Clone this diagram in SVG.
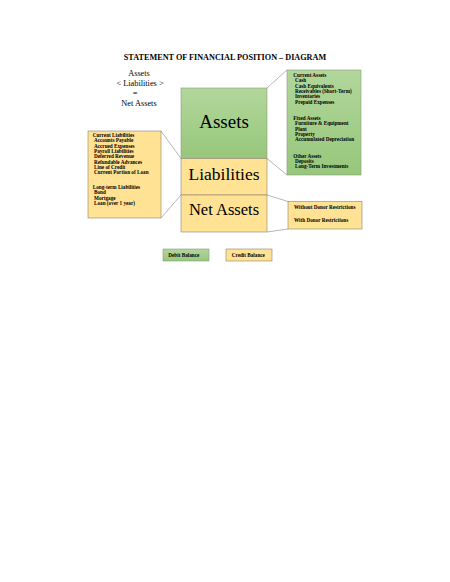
<svg xmlns="http://www.w3.org/2000/svg" width="450" height="582" viewBox="0 0 450 582">
<defs>
<linearGradient id="g" x1="0" y1="0" x2="0" y2="1">
<stop offset="0" stop-color="#b2d69b"/>
<stop offset="1" stop-color="#97c77b"/>
</linearGradient>
</defs>
<style>
text{font-family:"Liberation Serif","Times New Roman","DejaVu Serif",serif;fill:#000}
.green{fill:url(#g);stroke:#8a9a80;stroke-width:0.6}
.yel{fill:#ffe293;stroke:#8c8470;stroke-width:0.6}
.big{text-anchor:middle}
.sm{font-weight:bold;font-size:5.2px}
.mid{font-size:8.3px;text-anchor:middle}
.ln{stroke:#6f6f6f;stroke-width:0.5;fill:none}
</style>
<rect width="450" height="582" fill="#fff"/>
<text x="225" y="60" font-weight="bold" font-size="8.2" text-anchor="middle">STATEMENT OF FINANCIAL POSITION – DIAGRAM</text>
<g id="equation">
<text class="mid" x="139" y="76">Assets</text>
<text class="mid" x="140" y="86">&lt; Liabilities &gt;</text>
<text class="mid" x="135" y="95.5">=</text>
<text class="mid" x="139" y="106">Net Assets</text>
</g>
<g id="connectors">
<line class="ln" x1="287" y1="70" x2="267" y2="88"/>
<line class="ln" x1="287" y1="175" x2="267" y2="158.5"/>
<line class="ln" x1="161" y1="131" x2="181" y2="158.5"/>
<line class="ln" x1="161" y1="218" x2="181" y2="195"/>
<line class="ln" x1="288" y1="201.5" x2="267" y2="195"/>
<line class="ln" x1="288" y1="229" x2="267" y2="232"/>
</g>
<g id="assets">
<rect class="green" x="181" y="88" width="86" height="70.5"/>
<text class="big" x="224" y="128" font-size="19">Assets</text>
</g>
<g id="liabilities">
<rect class="yel" x="181" y="158.5" width="86" height="36.5"/>
<text class="big" x="224" y="180" font-size="17.5">Liabilities</text>
</g>
<g id="net-assets">
<rect class="yel" x="181" y="195" width="86" height="37"/>
<text class="big" x="224" y="215" font-size="16.5">Net Assets</text>
</g>
<g id="assets-detail">
<rect class="green" x="287" y="70" width="74" height="105"/>
<text class="sm" x="293.3" y="77">Current Assets</text>
<text class="sm" x="295" y="82.3">Cash</text>
<text class="sm" x="295" y="87.6">Cash Equivalents</text>
<text class="sm" x="295" y="92.9">Receivables (Short-Term)</text>
<text class="sm" x="295" y="98.2">Inventories</text>
<text class="sm" x="295" y="103.5">Prepaid Expenses</text>
<text class="sm" x="293.3" y="120">Fixed Assets</text>
<text class="sm" x="295" y="125.3">Furniture &amp; Equipment</text>
<text class="sm" x="295" y="130.6">Plant</text>
<text class="sm" x="295" y="135.9">Property</text>
<text class="sm" x="295" y="141.2">Accumulated Depreciation</text>
<text class="sm" x="293.3" y="157.5">Other Assets</text>
<text class="sm" x="295" y="162.8">Deposits</text>
<text class="sm" x="295" y="168.1">Long-Term Investments</text>
</g>
<g id="liabilities-detail">
<rect class="yel" x="88" y="131" width="73" height="87"/>
<text class="sm" x="92.7" y="136.8">Current Liabilities</text>
<text class="sm" x="94" y="142.2">Accounts Payable</text>
<text class="sm" x="94" y="147.5">Accrued Expenses</text>
<text class="sm" x="94" y="152.8">Payroll Liabilities</text>
<text class="sm" x="94" y="158.2">Deferred Revenue</text>
<text class="sm" x="94" y="163.5">Refundable Advances</text>
<text class="sm" x="94" y="168.8">Line of Credit</text>
<text class="sm" x="94" y="174.2">Current Portion of Loan</text>
<text class="sm" x="92.7" y="188.8">Long-term Liabilities</text>
<text class="sm" x="94" y="194.2">Bond</text>
<text class="sm" x="94" y="199.5">Mortgage</text>
<text class="sm" x="94" y="204.8">Loan (over 1 year)</text>
</g>
<g id="net-assets-detail">
<rect class="yel" x="288" y="201.5" width="74" height="27.5"/>
<text class="sm" x="294" y="209">Without Donor Restrictions</text>
<text class="sm" x="294" y="221.5">With Donor Restrictions</text>
</g>
<g id="legend-debit">
<rect class="green" x="163" y="249" width="46" height="12"/>
<text class="sm" x="168.3" y="256.5">Debit Balance</text>
</g>
<g id="legend-credit">
<rect class="yel" x="226" y="249" width="46" height="12"/>
<text class="sm" x="231.7" y="256.5">Credit Balance</text>
</g>
</svg>
